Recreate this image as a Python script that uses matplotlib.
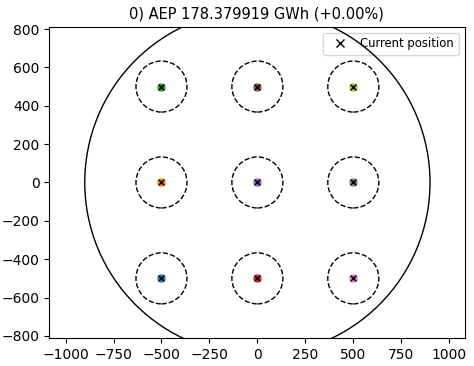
import matplotlib
matplotlib.use("Agg")
from matplotlib import pyplot as plt

# turbine positions (tab10 colour order)
turb_x = [-500, -500, -500, 0, 0, 0, 500, 500, 500]
turb_y = [-500, 0, 500, -500, 0, 500, -500, 0, 500]
move_radius = 133
boundary_radius = 900
title = "0) AEP 178.379919 GWh (+0.00%)"

fig = plt.figure(figsize=(4.74, 3.66), dpi=100)
ax = fig.add_axes([0.101, 0.077, 0.882, 0.849])

ax.add_patch(plt.Circle((0, 0), boundary_radius, fill=False, color="k", lw=1, zorder=6))
for i, (x, y) in enumerate(zip(turb_x, turb_y)):
    ax.add_patch(plt.Circle((x, y), move_radius, fill=False, color="k", ls="--", lw=1))
    ax.plot(x, y, "o", color="C%d" % i, ms=5)
ax.plot(turb_x, turb_y, "xk", ms=5, label="Current position")

ax.set_xlim(-1085, 1080)
ax.set_ylim(-810, 810)
ax.set_aspect("equal", adjustable="box")
ax.set_title(title, fontsize=10.5)
ax.legend(loc="upper right", fontsize="small", markerscale=1.2)

fig.savefig("out.png", dpi=100)
